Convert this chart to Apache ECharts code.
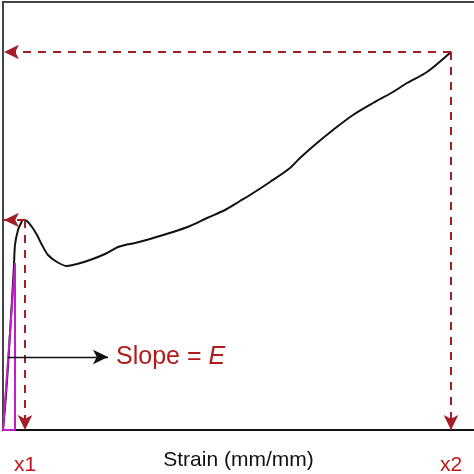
<!DOCTYPE html>
<html>
<head>
<meta charset="utf-8">
<script src="https://cdn.jsdelivr.net/npm/echarts@6/dist/echarts.min.js"></script>
<style>html,body{margin:0;padding:0;background:#fff}#c{width:474px;height:474px}</style>
</head>
<body>
<div id="c"></div>
<script>
// Stress-strain curve (arbitrary units)
var strainX = [0,3,6,9,11,12,15,18,20,24,29,34,39,45,54,64,74,87,102,115,122,132,147,170,187,204,222,237,247,267,287,297,314,330,350,370,390,404,424,448];
var stressY = [0,35,80,130,165,185,200,207,210,209,203,195,185,175,168,164,166,170,176,183,185,187,191,198,204,212,220,229,235,248,262,272,287,300,315,327,338,347,358,378];
// Elastic slope triangle
var slopeX = [0,12,12,0];
var slopeY = [0,167,0,0];
// Key points
var x1 = 22, yieldStress = 210;
var x2 = 448, maxStress = 378;
var xTickValues = [x1, x2];
var xTickLabels = ['x1', 'x2'];
var slopeArrow = {x0: 5, x1: 105, y: 73};

var chart = echarts.init(document.getElementById('c'));
var red = '#a51d27';
var dashStyle = {color: red, width: 2, type: [8, 7]};
chart.setOption({
  animation: false,
  grid: {left: 3, right: 0, top: 2, bottom: 44, containLabel: false, outerBoundsMode: 'none'},
  xAxis: [{
    type: 'value', min: 0, max: 471,
    axisLine: {show: true, onZero: false, lineStyle: {color: '#111', width: 2}},
    axisTick: {show: false},
    splitLine: {show: false},
    axisLabel: {
      customValues: xTickValues,
      margin: 25,
      color: '#c0161c', fontSize: 21, fontFamily: 'Liberation Sans',
      formatter: function (v) { return xTickLabels[xTickValues.indexOf(v)]; }
    },
    name: 'Strain (mm/mm)', nameLocation: 'middle', nameGap: 20, nameMoveOverlap: false,
    nameTextStyle: {color: '#111', fontSize: 21, fontFamily: 'Liberation Sans'}
  }, {
    type: 'value', position: 'top', min: 0, max: 471,
    axisLine: {show: true, onZero: false, lineStyle: {color: '#444', width: 2}},
    axisTick: {show: false}, axisLabel: {show: false}, splitLine: {show: false}
  }],
  yAxis: {
    type: 'value', min: 0, max: 428,
    axisLine: {show: true, onZero: false, lineStyle: {color: '#444', width: 2}},
    axisTick: {show: false}, axisLabel: {show: false}, splitLine: {show: false}
  },
  series: [{
    type: 'line',
    data: strainX.map(function (x, i) { return [x, stressY[i]]; }),
    smooth: 0.3, showSymbol: false, symbol: 'none',
    lineStyle: {color: '#111', width: 2},
    z: 3
  }, {
    type: 'line',
    data: slopeX.map(function (x, i) { return [x, slopeY[i]]; }),
    showSymbol: false, symbol: 'none',
    lineStyle: {color: '#c21ec8', width: 2},
    z: 4,
    markLine: {
      silent: true,
      symbol: ['none', 'arrow'],
      symbolSize: [11, 15],
      label: {show: false},
      lineStyle: dashStyle,
      data: [
        [{coord: [x2, maxStress]}, {coord: [1, maxStress]}],
        [{coord: [x2, maxStress]}, {coord: [x2, 0]}],
        [{coord: [x1, yieldStress]}, {coord: [1, yieldStress]}],
        [{coord: [x1, yieldStress]}, {coord: [x1, 0]}],
        [{coord: [slopeArrow.x0, slopeArrow.y], lineStyle: {color: '#111', width: 1.3, type: 'solid'},
          label: {show: true, position: 'end', distance: 8, formatter: '{a|Slope = }{b|E}',
            rich: {a: {color: '#b01c1c', fontSize: 25, fontFamily: 'Liberation Sans'},
                   b: {color: '#b01c1c', fontSize: 25, fontStyle: 'italic', fontFamily: 'Liberation Sans'}}}},
         {coord: [slopeArrow.x1, slopeArrow.y]}]
      ]
    }
  }]
});
</script>
</body>
</html>
